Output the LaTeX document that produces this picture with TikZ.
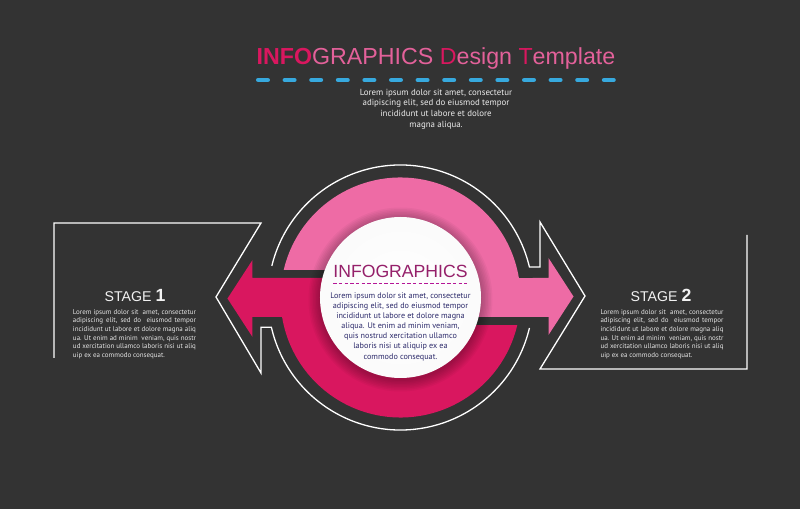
\documentclass[tikz,border=0pt]{standalone}
\usepackage{fontspec}
\setmainfont{Liberation Sans}
\newfontfamily\loremfont{PT Sans}
\definecolor{board}{HTML}{333333}
\definecolor{rosedeep}{HTML}{D9175F}
\definecolor{roselight}{HTML}{EE6BA5}
\definecolor{titlepink}{HTML}{E3619A}
\definecolor{dashblue}{HTML}{37A9DE}
\definecolor{hubpurple}{HTML}{95206A}
\definecolor{hubnavy}{HTML}{2D2B6B}
\tikzstyle{outline} = [draw=white, line width=1.3bp, line join=miter]
\tikzstyle{lorem} = [font=\loremfont\fontsize{8.9}{10.7}\selectfont, text=white!92!black, align=center, inner sep=0pt]
\tikzstyle{hubtext} = [font=\loremfont\fontsize{8.2}{10.2}\selectfont, text=hubnavy, align=center, inner sep=0pt]
\tikzstyle{stagetext} = [font=\loremfont\fontsize{7}{8.7}\selectfont, text=white!90!black, align=left, inner sep=0pt]
\tikzstyle{stagehead} = [font=\fontsize{14.2}{16}\selectfont, text=white!95!black, inner sep=0pt, anchor=base]
\pgfdeclareradialshading{hubshade}{\pgfpointorigin}{color(0bp)=(white); color(30bp)=(black!2); color(46bp)=(black!8); color(49bp)=(black!13); color(50bp)=(black!4)}

\begin{document}
\begin{tikzpicture}[x=1bp, y=1bp]
\fill [board] (-400.5,-211.5) rectangle (399.5,297.5);
\useasboundingbox (-400.5,-211.5) rectangle (399.5,297.5);
\node [anchor=base, inner sep=0pt] (title) at (35.5,232.5) {\fontsize{23.3}{28}\selectfont\textcolor{rosedeep}{\textbf{INFO}}\textcolor{titlepink}{GRAPHICS} \textcolor{rosedeep}{D}\textcolor{titlepink}{esign} \textcolor{rosedeep}{T}\textcolor{titlepink}{emplate}};
\draw [dashblue, line width=4.5bp, line cap=round, dash pattern=on 9.5bp off 17.1bp] (-142.25,217.5) -- (215.5,217.5);
\node [lorem] (intro) at (35.5,188.5) {Lorem ipsum dolor sit amet, consectetur\\adipiscing elit, sed do eiusmod tempor\\incididunt ut labore et dolore\\magna aliqua.};
\fill [roselight] (166.7:120) arc[start angle=166.7, end angle=9.35, radius=120] -- (148,19.5) -- (148,39.5) -- (173,1) -- (148,-37.5) -- (148,-19.5) -- (0,-19.5) -- (0,27.5) -- cycle;
\fill [rosedeep] (-13.3:120) arc[start angle=-13.3, end angle=-170.65, radius=120] -- (-148,-19.5) -- (-148,-39.5) -- (-173,-1) -- (-148,37.5) -- (-148,19.5) -- (0,19.5) -- (0,-27.5) -- cycle;
\draw [outline] (166.2:132.5) arc[start angle=166.2, end angle=13.3, radius=132.5] -- (139.5,30.5) -- (139.5,75.5) -- (184.5,1.5) -- (139.5,-71.5) -- (346.5,-71.5) -- (346.5,62.5);
\draw [outline] (-346.5,-60.5) -- (-346.5,74.5) -- (-139.5,74.5) -- (-184.5,0.5) -- (-139.5,-75.5) -- (-139.5,-29.8) -- (193:132.5) arc[start angle=193, end angle=346.7, radius=132.5];
\foreach \i in {1,...,8}
  \fill [black, opacity=0.035] (0,-2) circle[radius=80+1.5*\i];
\node [circle, minimum size=161bp, inner sep=0pt, shading=hubshade] (hub) at (0,0) {};
\node [anchor=base, inner sep=0pt, text=hubpurple, font=\fontsize{17.7}{20}\selectfont] (hubtitle) at (0,19.5) {INFOGRAPHICS};
\draw [hubpurple!70!magenta, line width=0.9bp, dash pattern=on 3.5bp off 2.2bp] (hubtitle.south west) ++(0,-5) -- ++(134,0);
\node [hubtext] (hubbody) at (0,-29) {Lorem ipsum dolor sit amet, consectetur\\adipiscing elit, sed do eiusmod tempor\\incididunt ut labore et dolore magna\\aliqua. Ut enim ad minim veniam,\\quis nostrud xercitation ullamco\\laboris nisi ut aliquip ex ea\\commodo consequat.};
\node [stagehead] (stageone) at (-265.5,-4.5) {STAGE \textbf{\fontsize{17.7}{20}\selectfont 1}};
\node [stagetext] (stageonebody) at (-266,-36.5) {\makebox[123bp][s]{Lorem ipsum dolor sit \ amet, consectetur}\\\makebox[123bp][s]{adipiscing elit, sed do \ eiusmod tempor}\\\makebox[123bp][s]{incididunt ut labore et dolore magna aliq}\\\makebox[123bp][s]{ua. Ut enim ad minim \ veniam, quis nostr}\\\makebox[123bp][s]{ud xercitation ullamco laboris nisi ut aliq}\\\makebox[123bp][l]{uip ex ea commodo consequat.}};
\node [stagehead] (stagetwo) at (260.5,-4.5) {STAGE \textbf{\fontsize{17.7}{20}\selectfont 2}};
\node [stagetext] (stagetwobody) at (261.5,-36.5) {\makebox[123bp][s]{Lorem ipsum dolor sit \ amet, consectetur}\\\makebox[123bp][s]{adipiscing elit, sed do \ eiusmod tempor}\\\makebox[123bp][s]{incididunt ut labore et dolore magna aliq}\\\makebox[123bp][s]{ua. Ut enim ad minim \ veniam, quis nostr}\\\makebox[123bp][s]{ud xercitation ullamco laboris nisi ut aliq}\\\makebox[123bp][l]{uip ex ea commodo consequat.}};
\end{tikzpicture}
\end{document}
